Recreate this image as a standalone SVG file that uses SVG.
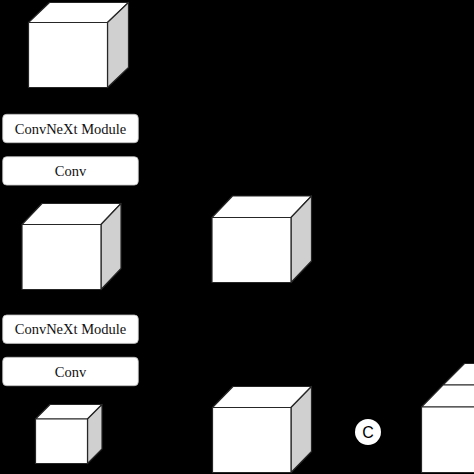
<svg xmlns="http://www.w3.org/2000/svg" width="474" height="474" viewBox="0 0 474 474">
<style>
.f{fill:#fff;stroke:#262626;stroke-width:1.2;stroke-linejoin:round}
.t{fill:#fff;stroke:#262626;stroke-width:1.2;stroke-linejoin:round}
.s{fill:#d0d0d0;stroke:#262626;stroke-width:1.2;stroke-linejoin:round}
.box{fill:#fff;stroke:#bbb;stroke-width:0.8}
.lbl{font-family:"Liberation Serif","Times New Roman",serif;font-size:14.5px;fill:#111;text-anchor:middle}
</style>
<rect x="0" y="0" width="474" height="474" fill="#000"/>
<g id="cube1">
<polygon class="t" points="28.5,22.5 49.5,2.5 128.5,2.5 107.5,22.5"/>
<polygon class="s" points="107.5,22.5 128.5,2.5 128.5,67.5 107.5,87.5"/>
<rect class="f" x="28.5" y="22.5" width="79" height="65"/>
</g>
<g id="convnext1">
<rect class="box" x="2.7" y="114.3" width="135.6" height="28.4" rx="4"/>
<text class="lbl" x="70.5" y="133.6">ConvNeXt Module</text>
</g>
<g id="conv1">
<rect class="box" x="2.7" y="156.7" width="135.6" height="28.4" rx="4"/>
<text class="lbl" x="70.5" y="176">Conv</text>
</g>
<g id="cube2">
<polygon class="t" points="22,224.5 42,203.5 121,203.5 101,224.5"/>
<polygon class="s" points="101,224.5 121,203.5 121,268.5 101,289.5"/>
<rect class="f" x="22" y="224.5" width="79" height="65"/>
</g>
<g id="convnext2">
<rect class="box" x="2.7" y="315" width="135.6" height="28.4" rx="4"/>
<text class="lbl" x="70.5" y="334.3">ConvNeXt Module</text>
</g>
<g id="conv2">
<rect class="box" x="2.7" y="357.3" width="135.6" height="28.4" rx="4"/>
<text class="lbl" x="70.5" y="376.6">Conv</text>
</g>
<g id="cube3">
<polygon class="t" points="35.5,419 50,404.5 102,404.5 87.5,419"/>
<polygon class="s" points="87.5,419 102,404.5 102,449 87.5,463.5"/>
<rect class="f" x="35.5" y="419" width="52" height="44.5"/>
</g>
<g id="cube4">
<polygon class="t" points="212,217.5 232.5,196 311.5,196 291,217.5"/>
<polygon class="s" points="291,217.5 311.5,196 311.5,261 291,282.5"/>
<rect class="f" x="212" y="217.5" width="79" height="65"/>
</g>
<g id="cube5">
<polygon class="t" points="212.5,407.5 233,386.5 311.5,386.5 291,407.5"/>
<polygon class="s" points="291,407.5 311.5,386.5 311.5,451.5 291,472.5"/>
<rect class="f" x="212.5" y="407.5" width="78.5" height="65"/>
</g>
<g id="concat">
<circle cx="368" cy="432" r="13" fill="#fff"/>
<text x="368" y="438" font-family="Liberation Sans,Arial,sans-serif" font-size="16" fill="#000" text-anchor="middle">C</text>
</g>
<g id="cube6">
<polygon class="t" points="443,385 464.5,363.5 543.5,363.5 522,385"/>
<polygon class="t" points="421.5,407 443,385 522,385 500.5,407"/>
<rect class="f" x="421.5" y="407" width="79" height="65.5"/>
</g>
<g id="connectors"></g>
</svg>
